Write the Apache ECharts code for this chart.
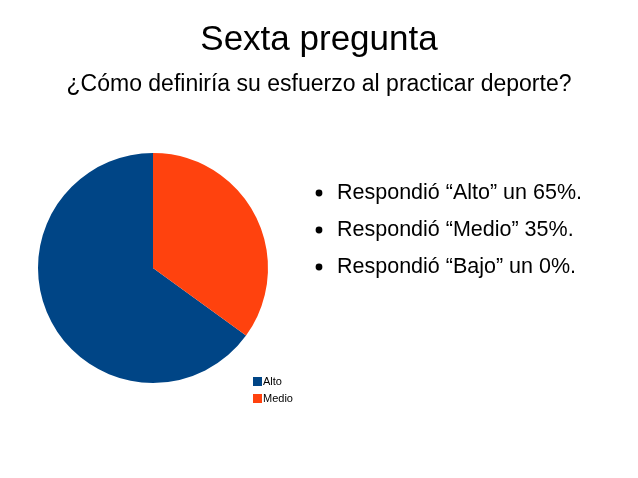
<!DOCTYPE html>
<html>
<head>
<meta charset="utf-8">
<script src="https://cdn.jsdelivr.net/npm/echarts@6/dist/echarts.min.js"></script>
<style>
  html, body { margin: 0; padding: 0; background: #fff; }
  #chart { width: 638px; height: 478px; }
</style>
</head>
<body>
<div id="chart"></div>
<script>
// respuestas
var categories = ['Alto', 'Medio']
var values = [65, 35]
var colors = ['#004586', '#ff420e']
var bullets = [
  'Respondió \u201cAlto\u201d un 65%.',
  'Respondió \u201cMedio\u201d 35%.',
  'Respondió \u201cBajo\u201d un 0%.'
]

var font = '"Liberation Sans", Arial, sans-serif'

var bulletGraphics = []
bullets.forEach(function (txt, i) {
  var y = 193 + i * 37
  bulletGraphics.push({
    type: 'circle',
    shape: { cx: 319, cy: y, r: 3.4 },
    style: { fill: '#000' }
  })
  bulletGraphics.push({
    type: 'text',
    left: 337,
    top: y - 11,
    style: { text: txt, font: '21.5px ' + font, fill: '#000' }
  })
})

var myChart = echarts.init(document.getElementById('chart'))
var option = {
  backgroundColor: '#fff',
  animation: false,
  title: [
    {
      text: 'Sexta pregunta',
      left: 'center',
      top: 18,
      textStyle: { fontFamily: font, fontSize: 35, fontWeight: 'normal', color: '#000' }
    },
    {
      text: '¿Cómo definiría su esfuerzo al practicar deporte?',
      left: 'center',
      top: 68,
      textStyle: { fontFamily: font, fontSize: 23, fontWeight: 'normal', color: '#000' }
    }
  ],
  legend: {
    orient: 'vertical',
    left: 248,
    top: 371,
    itemWidth: 9,
    itemHeight: 9,
    itemGap: 6,
    icon: 'rect',
    textStyle: { fontFamily: font, fontSize: 11, color: '#000', padding: [0, 0, 0, -4] },
    data: categories
  },
  graphic: bulletGraphics,
  series: [
    {
      type: 'pie',
      center: [153, 268],
      radius: 115,
      startAngle: 90,
      clockwise: false,
      label: { show: false },
      labelLine: { show: false },
      itemStyle: { borderWidth: 0 },
      data: categories.map(function (c, i) {
        return { name: c, value: values[i], itemStyle: { color: colors[i] } }
      })
    }
  ]
}
myChart.setOption(option)
</script>
</body>
</html>
